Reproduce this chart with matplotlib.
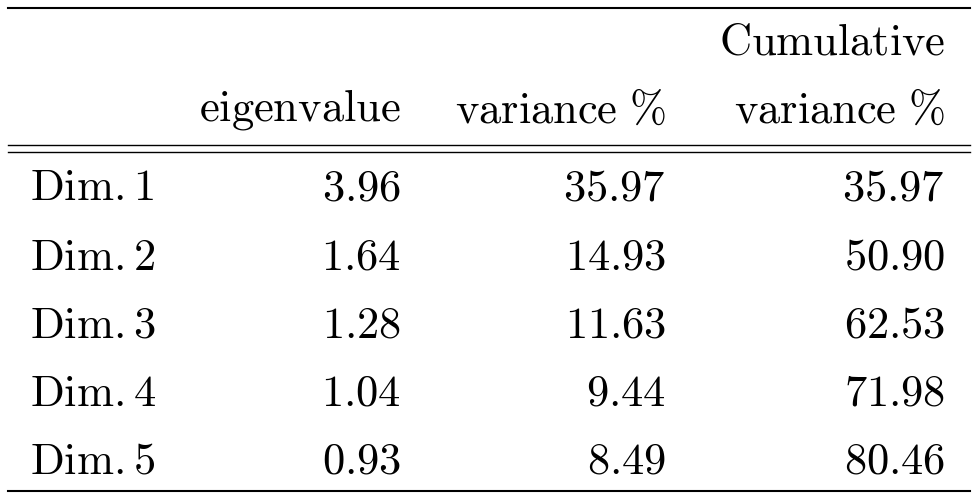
import matplotlib
matplotlib.use("Agg")
from matplotlib import pyplot as plt
from matplotlib.lines import Line2D

plt.rcParams['mathtext.fontset'] = 'cm'

dims = ["Dim.1", "Dim.2", "Dim.3", "Dim.4", "Dim.5"]
eigenvalue = ["3.96", "1.64", "1.28", "1.04", "0.93"]
variance = ["35.97", "14.93", "11.63", "9.44", "8.49"]
cumulative = ["35.97", "50.90", "62.53", "71.98", "80.46"]

W, H = 979, 495
fig = plt.figure(figsize=(W / 100, H / 100), dpi=100)
fig.patch.set_facecolor("white")

def txt(x, y, s, ha):
    s = s.replace(" ", r"\ ").replace("%", r"\%").replace("Dim.", "Dim{.}")
    fig.text(x / W, 1 - y / H, r"$\mathrm{" + s + "}$", ha=ha, va="center",
             fontsize=32, color="black")

def rule(y, lw=1.5):
    fig.add_artist(Line2D([8 / W, 970 / W], [1 - y / H, 1 - y / H], color="black", lw=lw))

rule(8)
rule(145, 1.0)
rule(152, 1.0)
rule(491)

col_x = [401, 666, 945]
txt(945, 42, "Cumulative", "right")
txt(401, 110, "eigenvalue", "right")
txt(666, 110, "variance %", "right")
txt(945, 110, "variance %", "right")

row_y = [188, 257, 325, 393, 461]
for i, y in enumerate(row_y):
    txt(30, y, dims[i], "left")
    txt(col_x[0], y, eigenvalue[i], "right")
    txt(col_x[1], y, variance[i], "right")
    txt(col_x[2], y, cumulative[i], "right")

fig.savefig("out.png", dpi=100)
